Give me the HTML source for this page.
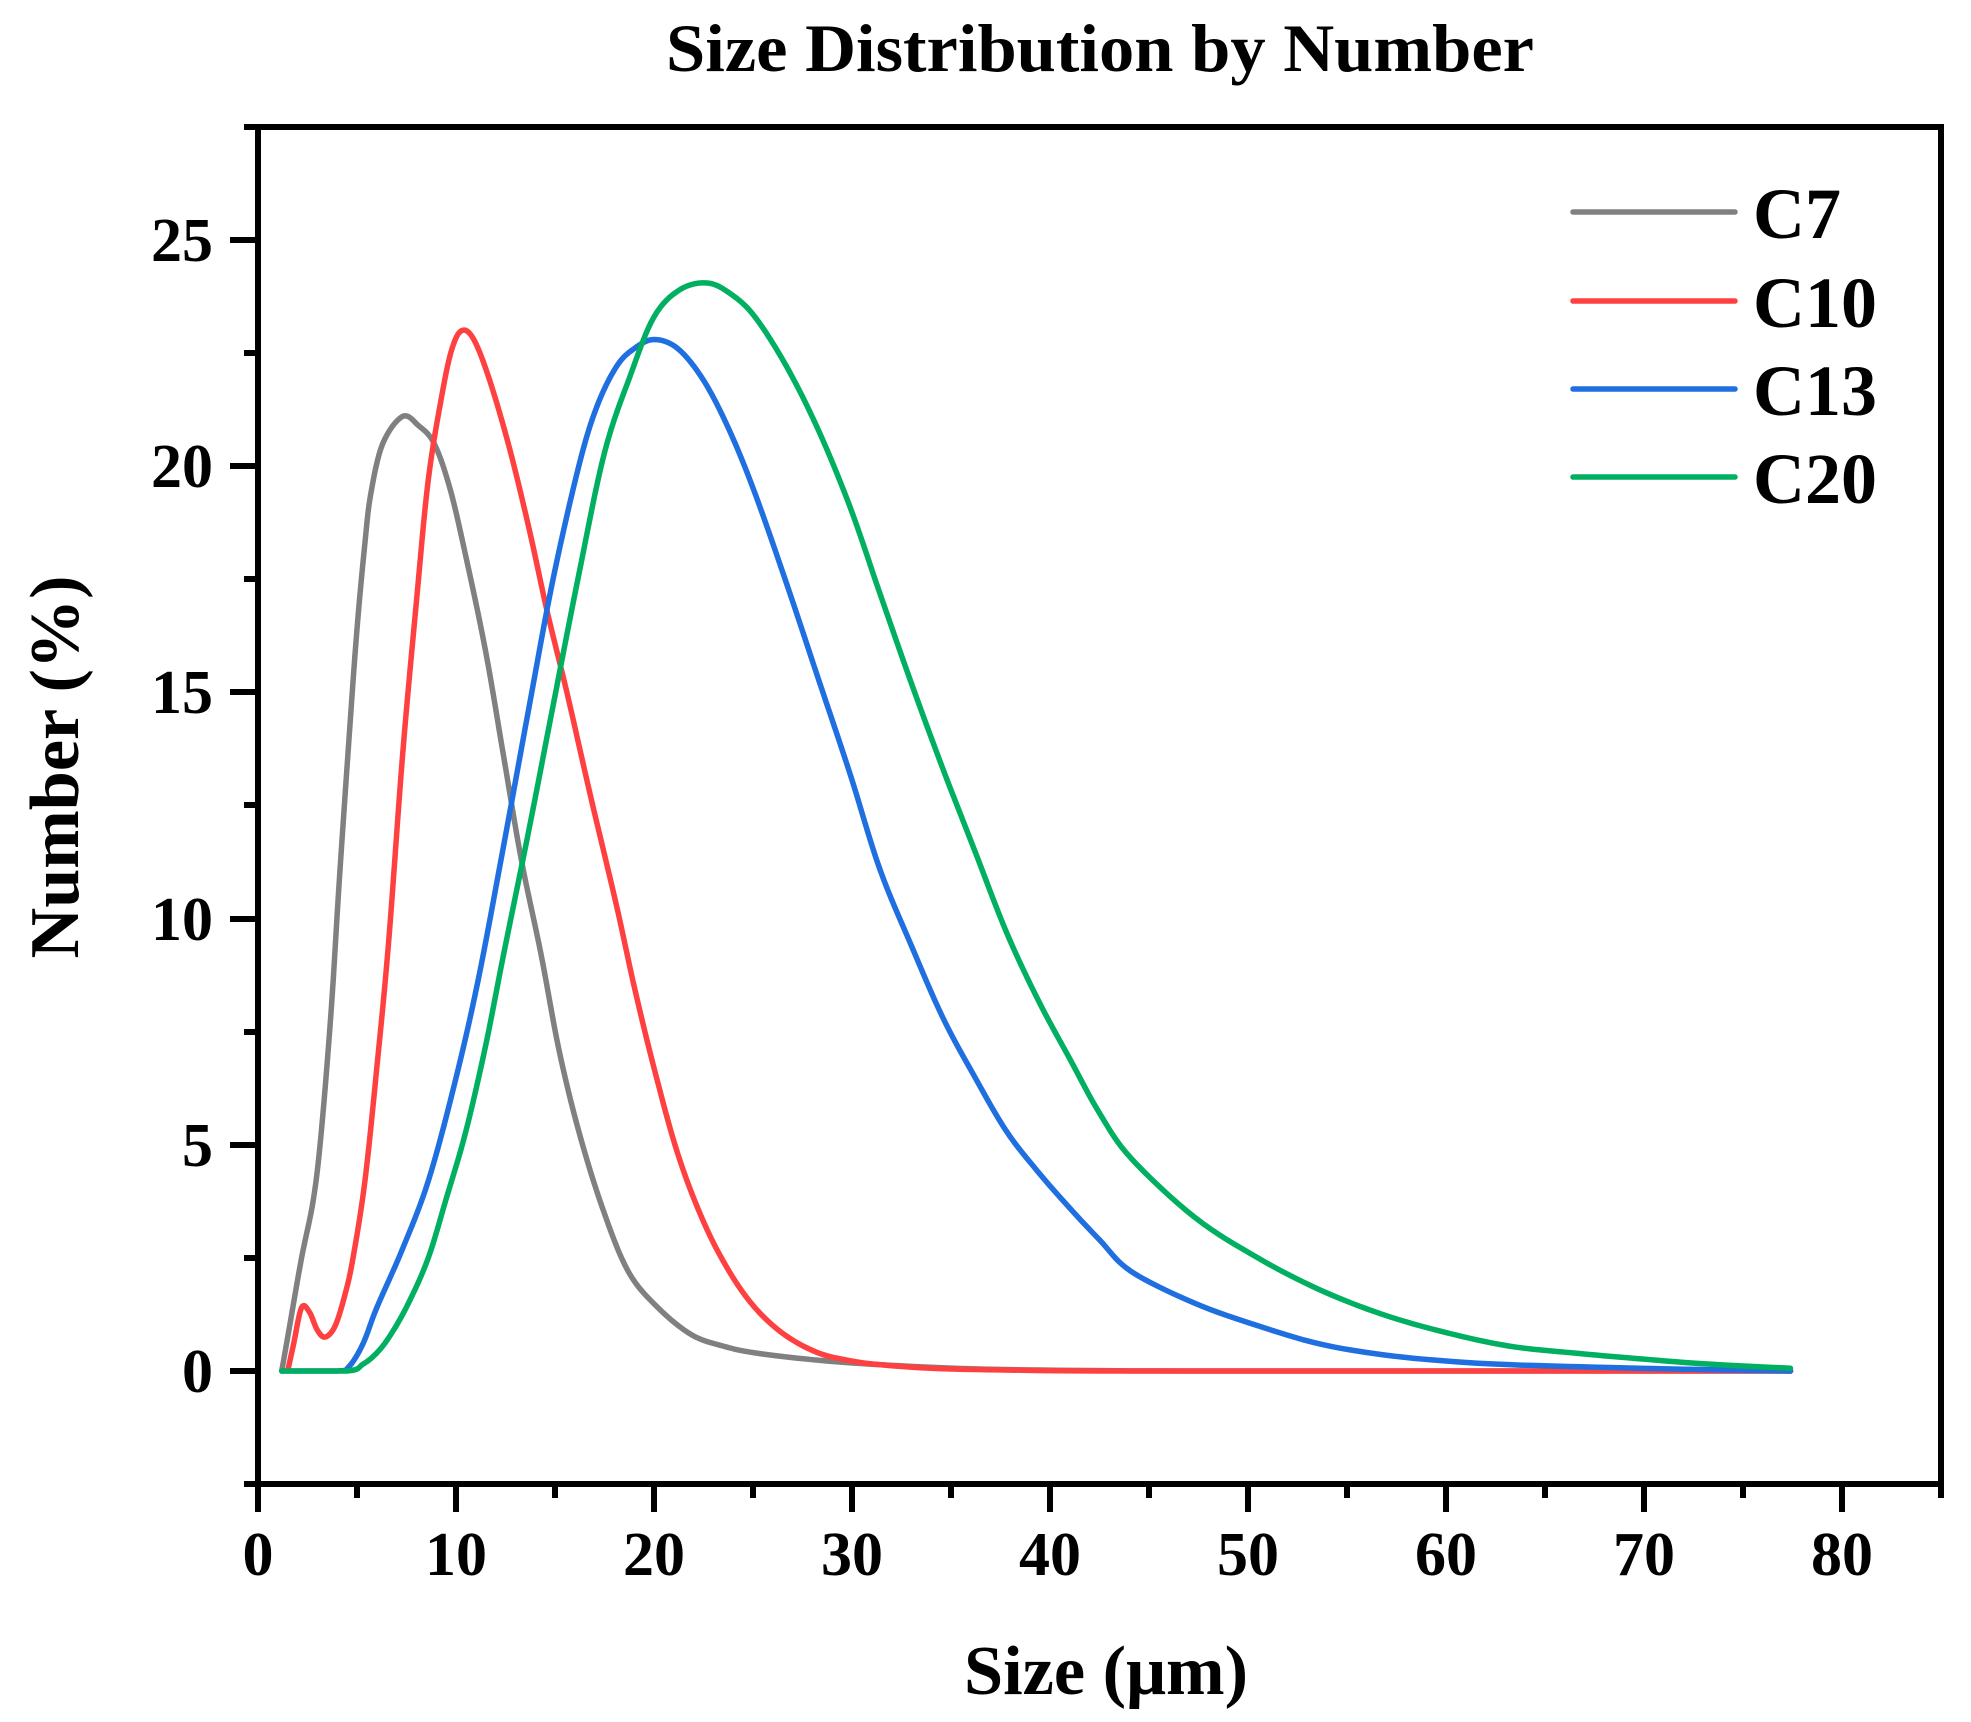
<!DOCTYPE html>
<html><head><meta charset="utf-8"><style>html,body{margin:0;padding:0;background:#fff}</style></head>
<body>
<svg width="1971" height="1717" viewBox="0 0 1971 1717" xmlns="http://www.w3.org/2000/svg" font-family="Liberation Serif, serif" font-weight="bold">
<rect width="1971" height="1717" fill="#fff"/>
<text x="1100" y="71" font-size="68" text-anchor="middle" textLength="868" lengthAdjust="spacingAndGlyphs">Size Distribution by Number</text>
<g transform="translate(258,1371) scale(19.8,-45.24)" fill="none" stroke-width="5.5" stroke-linejoin="round" stroke-linecap="round">
<polyline class="c" vector-effect="non-scaling-stroke" stroke="#808080" points="1.2,0 1.6,1 2.2,2.5 2.8,3.8 3.2,5.3 3.7,8 4.1,10.8 4.6,14 5,16.4 5.4,18.3 5.7,19.4 6.3,20.5 7.3,21.1 8.1,20.9 8.9,20.5 9.7,19.5 10.5,18 11.5,15.9 12.4,13.6 13.3,11.3 14.3,9.2 15.2,7.1 16.2,5.3 17.4,3.6 18.7,2.2 20.2,1.4 21.9,0.8 23.5,0.55 25.1,0.4 28,0.25 31.4,0.14 36,0.05 42,0.01 50,0 77.4,0"/>
<polyline class="c" vector-effect="non-scaling-stroke" stroke="#ff4040" points="1.5,0 1.8,0.6 2.2,1.4 2.6,1.3 3,0.9 3.4,0.75 3.9,1 4.4,1.7 4.8,2.5 5.4,4.2 6,6.7 6.6,9.5 7.3,13.6 8,17 8.6,19.7 9.3,21.6 9.8,22.6 10.3,23 10.9,22.8 11.7,21.9 12.7,20.4 13.7,18.6 14.6,16.8 15.6,15 16.8,12.7 18.1,10.3 19,8.5 20,6.7 21.2,4.8 22.5,3.3 23.8,2.2 25.1,1.4 26.6,0.8 28.3,0.4 30,0.22 31.4,0.14 34,0.06 38,0.02 45,0 77.4,0"/>
<polyline class="c" vector-effect="non-scaling-stroke" stroke="#1f6fe0" points="1.2,0 4,0 4.6,0.1 5.3,0.6 6,1.4 7.3,2.7 8.6,4.2 9.9,6.3 11.1,8.6 12.4,11.6 13.7,14.7 14.9,17.5 16.2,20 17.1,21.3 18.1,22.2 19,22.6 20,22.8 21.2,22.6 22.5,21.9 23.8,20.8 25.1,19.4 26.7,17.4 28.3,15.3 29.9,13.2 31.4,11.1 33,9.4 34.6,7.8 36.2,6.5 37.8,5.3 39.4,4.4 41,3.6 42.5,2.9 44.1,2.2 47.3,1.5 50.5,1 53.6,0.6 56.8,0.36 60,0.22 63.2,0.14 68,0.08 72,0.04 77.4,0"/>
<polyline class="c" vector-effect="non-scaling-stroke" stroke="#00b060" points="1.2,0 4.5,0 5.3,0.15 6,0.4 6.7,0.8 7.6,1.5 8.6,2.5 9.5,3.8 10.5,5.3 11.5,7.2 12.4,9.2 13.7,12 14.9,14.7 16.2,17.6 17.5,20.3 18.8,22 20,23.3 21.3,23.9 22.7,24.05 23.9,23.8 25.1,23.3 26.7,22.2 28.3,20.8 29.9,19.1 31.4,17.2 33,15.2 34.6,13.3 36.2,11.5 37.8,9.7 39.4,8.2 41,6.9 42.5,5.7 44.1,4.7 47.3,3.4 50.5,2.5 53.6,1.8 56.8,1.25 60,0.85 63.2,0.55 66.4,0.4 69.5,0.28 73,0.16 77.4,0.06"/>
</g>
<g stroke="#000" stroke-width="6" fill="none">
<rect x="258" y="127" width="1683" height="1357"/>
<path d="M230,1371H258M230,1145H258M230,919H258M230,692H258M230,466H258M230,240H258"/>
<path d="M244,1258H258M244,1032H258M244,805H258M244,579H258M244,353H258M244,1484H258M244,127H258"/>
<path d="M258,1484V1512M456,1484V1512M654,1484V1512M852,1484V1512M1050,1484V1512M1248,1484V1512M1446,1484V1512M1644,1484V1512M1842,1484V1512"/>
<path d="M357,1484V1498M555,1484V1498M753,1484V1498M951,1484V1498M1149,1484V1498M1347,1484V1498M1545,1484V1498M1743,1484V1498M1941,1484V1498"/>
</g>
<g font-size="62" text-anchor="end">
<text x="213" y="1392">0</text><text x="213" y="1166">5</text><text x="213" y="940">10</text><text x="213" y="713">15</text><text x="213" y="487">20</text><text x="213" y="261">25</text>
</g>
<g font-size="62" text-anchor="middle">
<text x="258" y="1575">0</text><text x="456" y="1575">10</text><text x="654" y="1575">20</text><text x="852" y="1575">30</text><text x="1050" y="1575">40</text><text x="1248" y="1575">50</text><text x="1446" y="1575">60</text><text x="1644" y="1575">70</text><text x="1842" y="1575">80</text>
</g>
<text x="1106" y="1694" font-size="70" text-anchor="middle" textLength="284" lengthAdjust="spacingAndGlyphs">Size (μm)</text>
<text transform="translate(78,767) rotate(-90)" font-size="70" text-anchor="middle" textLength="383" lengthAdjust="spacingAndGlyphs">Number (%)</text>
<g stroke-width="5.5" stroke-linecap="round">
<line x1="1573" y1="212" x2="1735" y2="212" stroke="#808080"/>
<line x1="1573" y1="301" x2="1735" y2="301" stroke="#ff4040"/>
<line x1="1573" y1="389" x2="1735" y2="389" stroke="#1f6fe0"/>
<line x1="1573" y1="477" x2="1735" y2="477" stroke="#00b060"/>
</g>
<g font-size="72">
<text x="1753" y="238">C7</text><text x="1753" y="327">C10</text><text x="1753" y="415">C13</text><text x="1753" y="503">C20</text>
</g>
</svg>
<script>
document.querySelectorAll('polyline.c').forEach(function(pl){
  var p=pl.getAttribute('points').trim().split(/\s+/).map(function(s){return s.split(',').map(Number);});
  var out=[];
  for(var i=0;i<p.length-1;i++){
    var p0=p[Math.max(i-1,0)],p1=p[i],p2=p[i+1],p3=p[Math.min(i+2,p.length-1)];
    for(var t=0;t<1;t+=0.125){
      var t2=t*t,t3=t2*t;
      var x=0.5*((2*p1[0])+(-p0[0]+p2[0])*t+(2*p0[0]-5*p1[0]+4*p2[0]-p3[0])*t2+(-p0[0]+3*p1[0]-3*p2[0]+p3[0])*t3);
      var y=0.5*((2*p1[1])+(-p0[1]+p2[1])*t+(2*p0[1]-5*p1[1]+4*p2[1]-p3[1])*t2+(-p0[1]+3*p1[1]-3*p2[1]+p3[1])*t3);
      out.push(x.toFixed(3)+','+Math.max(y,0).toFixed(3));
    }
  }
  out.push(p[p.length-1].join(','));
  pl.setAttribute('points',out.join(' '));
});
</script>
</body></html>
